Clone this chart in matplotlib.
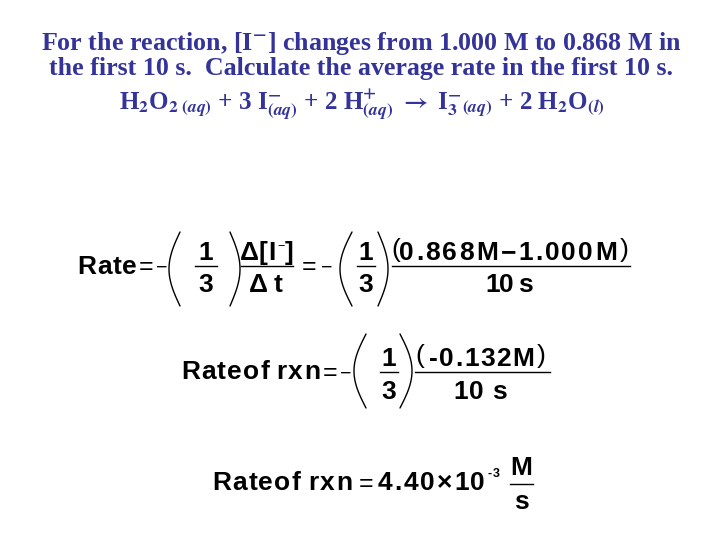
import numpy as np
import matplotlib.pyplot as plt

# slide text
title_lines = [r"For the reaction, [I$^{\mathbf{-}}$] changes from 1.000 M to 0.868 M in",
               "the first 10 s.  Calculate the average rate in the first 10 s."]
aq = r"\mathbf{(}\mathbfit{aq}\mathbf{)}"
reaction = (r"H$_{\mathbf{2}}$O$_{\mathbf{2}\ " + aq + r"}$ + 3 I$^{\mathbf{-}}_{" + aq + r"}$"
            r" + 2 H$^{\mathbf{+}}_{" + aq + r"}$ $\mathbf{\rightarrow}$ I$_{\mathbf{3}}^{\mathbf{-}}$$_{" + aq + r"}$"
            r" + 2 H$_{\mathbf{2}}$O$_{\mathbf{(}\mathbfit{l}\mathbf{)}}$")

conc_end = "0.868"
conc_start = "1.000"
conc_diff = "-0.132"
time_s = "10"
rate_val = "4.40"
rate_exp = "-3"

blue = "#333399"
sans = ["Liberation Sans", "DejaVu Sans"]
eq_size = 19

fig = plt.figure(figsize=(7.28, 5.46), dpi=100)
ax = fig.add_axes([0, 0, 1, 1])
ax.set_xlim(0, 728)
ax.set_ylim(546, 0)
ax.axis("off")
rend = fig.canvas.get_renderer()


def put(x, y, s, size=eq_size, ha="left", weight="bold"):
    return ax.text(x, y, s, ha=ha, va="baseline", fontsize=size,
                   family=sans, fontweight=weight, color="black")


def spread(x0, x1, y, s, size=eq_size):
    # place characters one by one, evenly tracked between x0 and x1
    ts = [put(0, y, c, size) for c in s]
    ws = [t.get_window_extent(rend).width if c.strip() else 5 for t, c in zip(ts, s)]
    gap = (x1 - x0 - sum(ws)) / (len(s) - 1)
    x = x0
    for t, w in zip(ts, ws):
        t.set_x(x)
        x += w + gap


def paren(xa, xb, y0, y1, left=True):
    t = np.linspace(0, 1, 50)
    bulge = np.sin(np.pi * t) * (xb - xa)
    x = xb - bulge if left else xa + bulge
    ax.plot(x, y0 + (y1 - y0) * t, color="black", lw=1.0, solid_capstyle="round")


def bar(x0, x1, y):
    ax.plot([x0, x1], [y, y], color="black", lw=1.0)


def sign(xc, yc, s, size=18):
    # yc is the vertical centre of the sign
    put(xc, yc + size * 0.4, s, size=size, ha="center", weight="normal")


def fit(t, width):
    w = t.get_window_extent(rend).width
    t.set_fontsize(t.get_fontsize() * width / w)
    return t.get_fontsize()


# title
tkw = dict(ha="center", va="baseline", family="Liberation Serif", fontweight="bold",
           color=blue, math_fontfamily="stix", fontsize=18.5)
t1 = ax.text(361, 50, title_lines[0], **tkw)
fs = fit(t1, 642)
tkw["fontsize"] = fs
ax.text(361, 75, title_lines[1], **tkw)
t3 = ax.text(361.5, 110, reaction, **tkw)
fit(t3, 487)

# equation 1  (fraction line at y=266)
a = 266
spread(77, 137, a + 8, "Rate")
sign(146, a + 1, "=")
sign(162, a + 1, "\u2212", 14)
paren(169, 180, 232, 306, True)
put(206, a - 6, "1", ha="center")
bar(195, 217, a)
put(206, a + 26, "3", ha="center")
paren(230, 240, 232, 306, False)
spread(240, 275, a - 6, "\u0394[I")
put(277, a - 16, "\u2212", size=9, weight="normal")
put(285, a - 6, "]")
bar(241, 293, a)
spread(249, 282, a + 26, "\u0394t")
sign(309, a + 1, "=")
sign(327, a + 1, "\u2212", 14)
paren(340, 352, 232, 306, True)
put(366, a - 6, "1", ha="center")
bar(357, 375, a)
put(366, a + 26, "3", ha="center")
paren(378, 388, 232, 306, False)
put(391, a - 9, "(", weight="normal")
spread(399, 617, a - 6, conc_end + "M\u2212" + conc_start + "M")
put(620, a - 9, ")", weight="normal")
bar(392, 630, a)
spread(485, 533, a + 26, time_s + " s")

# equation 2  (fraction line at y=372)
a = 372
spread(181, 320, a + 7, "Rateof rxn")
sign(330, a + 1, "=")
sign(346, a + 1, "\u2212", 14)
paren(354, 366, 334, 408, True)
put(389, a - 6, "1", ha="center")
bar(380, 398, a)
put(389, a + 27, "3", ha="center")
paren(400, 412, 334, 408, False)
put(415, a - 9, "(", weight="normal")
spread(429, 534, a - 6, conc_diff + "M")
put(537, a - 9, ")", weight="normal")
bar(415, 550, a)
spread(453, 507, a + 27, time_s + " s")

# equation 3  (fraction line at y=484)
a = 484
spread(212, 352, a + 6, "Rateof rxn")
sign(366, a, "=")
spread(378, 485, a + 6, rate_val + "\u00d7" + "10")
spread(487, 500, a - 7, rate_exp, size=9)
put(521, a - 9, "M", ha="center")
bar(510, 533, a)
put(521.5, a + 25, "s", ha="center")

fig.savefig("out.png", dpi=100, facecolor="white")
